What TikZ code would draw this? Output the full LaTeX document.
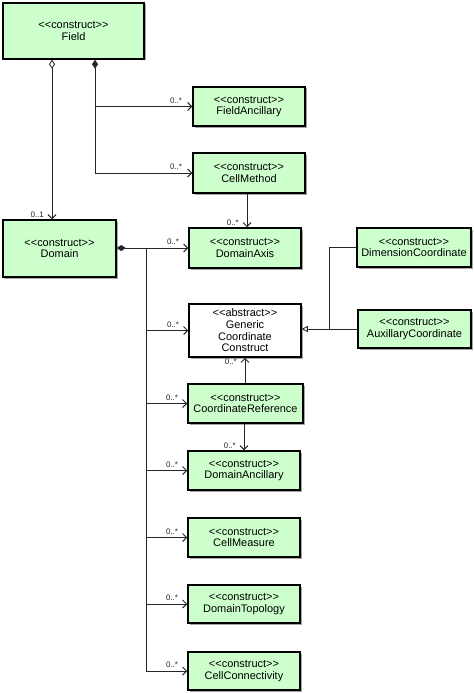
\documentclass[tikz,border=0pt]{standalone}
\usepackage{fontspec}
\setmainfont{Liberation Sans}[Ligatures=ResetAll]
\usetikzlibrary{arrows.meta,shadows}
\definecolor{boxgreen}{RGB}{204,255,204}
\begin{document}
\begin{tikzpicture}[x=1bp,y=-1bp,
  base/.style={draw=black, line width=1.5bp, align=center, inner sep=0pt,
    font=\fontsize{11}{11.7}\selectfont,
    drop shadow={shadow xshift=1.5bp,shadow yshift=-1.5bp,fill=black!35,opacity=1}},
  cls/.style={base, fill=boxgreen},
  abs/.style={base, fill=white},
  sz/.style 2 args={minimum width=#1, minimum height=#2},
  tip/.tip={Straight Barb[length=4bp,width=8bp,line width=1bp]},
  conn/.style={draw=black!85, line width=0.8bp},
  arr/.style={conn, -tip},
  comp/.style={conn, {Diamond[length=9bp,width=6bp]}-tip},
  aggr/.style={conn, {Diamond[open,length=9bp,width=6bp,fill=white]}-tip},
  gen/.style={conn, -{Triangle[open,length=6bp,width=6bp,fill=white]}},
  mult/.style={font=\fontsize{8}{9}\selectfont, inner sep=0pt, text=black!85}
]
\useasboundingbox (0,0) rectangle (474,693);

\newcommand{\cstr}{<{}<construct>{}>}

\node[cls, sz={141bp}{56bp}] (Field) at (73.5,31) {\cstr\\Field};
\node[cls, sz={112bp}{39bp}] (FieldAncillary) at (249,106.5) {\cstr\\FieldAncillary};
\node[cls, sz={112bp}{40bp}] (CellMethod) at (249,173) {\cstr\\CellMethod};
\node[cls, sz={113bp}{57bp}] (Domain) at (59.5,248.5) {\cstr\\Domain};
\node[cls, sz={112bp}{40bp}] (DomainAxis) at (245,248) {\cstr\\DomainAxis};
\node[abs, sz={112bp}{53bp}] (GCC) at (245,330.5) {<{}<abstract>{}>\\Generic\\Coordinate\\Construct};
\node[cls, sz={114bp}{39bp}] (DimCoord) at (414,247.5) {\cstr\\DimensionCoordinate};
\node[cls, sz={113bp}{38bp}] (AuxCoord) at (414.5,329) {\cstr\\AuxillaryCoordinate};
\node[cls, sz={115bp}{39bp}] (CoordRef) at (245.5,403.5) {\cstr\\CoordinateReference};
\node[cls, sz={112bp}{39bp}] (DomainAncillary) at (244,470.5) {\cstr\\DomainAncillary};
\node[cls, sz={112bp}{39bp}] (CellMeasure) at (244,537.5) {\cstr\\CellMeasure};
\node[cls, sz={112bp}{38bp}] (DomainTopology) at (244,604) {\cstr\\DomainTopology};
\node[cls, sz={112bp}{38bp}] (CellConnectivity) at (244,671) {\cstr\\CellConnectivity};

\coordinate (colA) at (52,0);
\coordinate (colB) at (95,0);
\coordinate (colC) at (146,0);
\coordinate (colD) at (247,0);
\coordinate (colE) at (245,0);
\coordinate (colF) at (244,0);
\coordinate (colG) at (329,0);

% Field -> Domain (aggregation)
\draw[aggr] (Field.south -| colA) -- (Domain.north -| colA);
\node[mult, anchor=south east] (m01) at ([xshift=-8bp,yshift=1bp]Domain.north -| colA) {0..1};

% Field composition
\draw[comp] (Field.south -| colB) |- (CellMethod.west);
\draw[arr] (FieldAncillary.west -| colB) -- (FieldAncillary.west);
\node[mult, anchor=south east] (mFA) at ([xshift=-10bp,yshift=3bp]FieldAncillary.west) {0..*};
\node[mult, anchor=south east] (mCM) at ([xshift=-10bp,yshift=3bp]CellMethod.west) {0..*};

% CellMethod -> DomainAxis
\draw[arr] (CellMethod.south -| colD) -- (DomainAxis.north -| colD);
\node[mult, anchor=south east] (mDAt) at ([xshift=-8bp,yshift=1bp]DomainAxis.north -| colD) {0..*};

% Domain composition
\draw[comp] (Domain.east |- DomainAxis.west) -- (DomainAxis.west);
\node[mult, anchor=south east] (mDA) at ([xshift=-9bp,yshift=3bp]DomainAxis.west) {0..*};
\coordinate (bus) at (colC |- DomainAxis.west);
\draw[arr] (bus) |- (CellConnectivity.west);
\foreach \n in {GCC,CoordRef,DomainAncillary,CellMeasure,DomainTopology}{
  \draw[arr] (\n.west -| colC) -- (\n.west);
}
\foreach \n in {GCC,CoordRef,DomainAncillary,CellMeasure,DomainTopology,CellConnectivity}{
  \node[mult, anchor=south east] (m\n) at ([xshift=-9bp,yshift=3bp]\n.west) {0..*};
}

% CoordRef -> GCC, CoordRef -> DomainAncillary
\draw[arr] (CoordRef.north -| colE) -- (GCC.south -| colE);
\node[mult, anchor=north east] (mGCCb) at ([xshift=-8bp,yshift=-1bp]GCC.south -| colE) {0..*};
\draw[arr] (CoordRef.south -| colF) -- (DomainAncillary.north -| colF);
\node[mult, anchor=south east] (mDAn) at ([xshift=-8bp,yshift=1bp]DomainAncillary.north -| colF) {0..*};

% generalization
\draw[gen] (AuxCoord.west) -- (AuxCoord.west -| GCC.east);
\draw[conn] (DimCoord.west) -| (colG |- AuxCoord.west);
\end{tikzpicture}
\end{document}
